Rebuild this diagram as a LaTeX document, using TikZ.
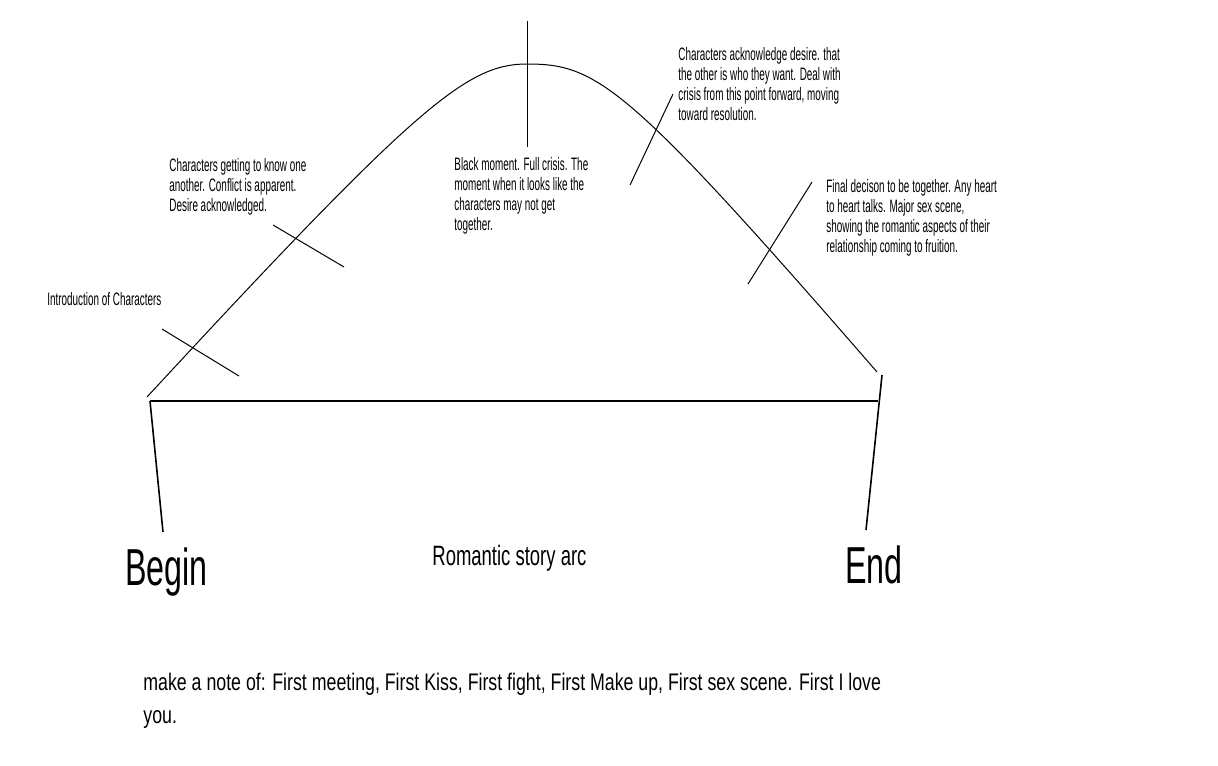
\documentclass[tikz,border=0pt]{standalone}
\usepackage{fontspec}
\setmainfont{Liberation Sans}[FakeStretch=0.55]
\newfontfamily\wordfont{Liberation Sans}[FakeStretch=0.62]
\newfontfamily\titlefont{Liberation Sans}[FakeStretch=0.66]
\newfontfamily\notefont{Liberation Sans}[FakeStretch=0.74]
\usetikzlibrary{positioning,calc}

\begin{document}
\begin{tikzpicture}[x=0.5pt,y=-0.5pt,
    arcline/.style={line width=0.5pt},
    leg/.style={line width=0.8pt},
    remark/.style={anchor=base west,align=left,inner sep=0pt,font=\fontsize{9}{10}\selectfont},
    bigword/.style={anchor=base west,inner sep=0pt,font=\wordfont\fontsize{26}{30}\selectfont}]
    \useasboundingbox[fill=white] (0,0) rectangle (1218,765);

    % Arc
    \coordinate (start) at (147,397);
    \coordinate (peak) at (527,64);
    \coordinate (stop) at (877,372);
    \draw[arcline] (start) .. controls (417,105) and (467,64) .. (peak)
        .. controls (597,64) and (627,84) .. (stop);

    % Base line and legs
    \coordinate (lfoot) at (150,401);
    \coordinate (rfoot) at (878,401);
    \coordinate (ltop) at (882,375);
    \draw[leg] (lfoot) -- (rfoot);
    \draw[leg] (lfoot) -- (163,532);
    \draw[leg] (ltop) -- (866,530);

    % Markers
    \draw[arcline] (162,329) -- (239,376);
    \draw[arcline] (273,225) -- (344,267);
    \draw[arcline] (527,21) -- (527,147);
    \draw[arcline] (673,94) -- (630,185);
    \draw[arcline] (812,182) -- (748,284);

    % Notes (base = last line)
    \node[remark] (intro) at (47,305) {Introduction of Characters};
    \node[remark] (meet) at (169,211) {Characters getting to know one\\another. Conflict is apparent.\\Desire acknowledged.};
    \node[remark] (black) at (454,230) {Black moment. Full crisis. The\\moment when it looks like the\\characters may not get\\together.};
    \node[remark] (want) at (678,120) {Characters acknowledge desire. that\\the other is who they want. Deal with\\crisis from this point forward, moving\\toward resolution.};
    \node[remark] (final) at (826,252) {Final decison to be together. Any heart\\to heart talks. Major sex scene,\\showing the romantic aspects of their\\relationship coming to fruition.};

    % Labels
    \node[bigword] (begin) at (125,585) {Begin};
    \node[bigword] (finish) at (845,583) {End};
    \node[anchor=base west,inner sep=0pt,font=\titlefont\fontsize{14}{16}\selectfont] (arcname) at (432,565) {Romantic story arc};
    \node[anchor=base west,align=left,inner sep=0pt,font=\notefont\fontsize{12}{16.5}\selectfont] (todo) at (143,723)
        {make a note of: First meeting, First Kiss, First fight, First Make up, First sex scene. First I love\\you.};
\end{tikzpicture}
\end{document}
